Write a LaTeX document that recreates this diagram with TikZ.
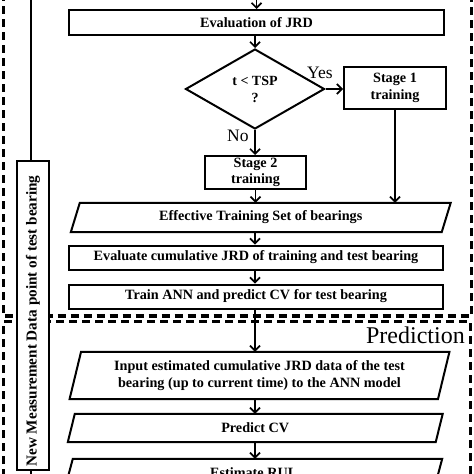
\documentclass[tikz,border=0pt]{standalone}
\usepackage{fontspec}
\setmainfont{Liberation Serif}
\usetikzlibrary{arrows.meta,shapes.geometric}
\newcommand{\drawpara}[2]{%
  \draw[boxline] ([xshift=#2]#1.north west) -- ([xshift=#2]#1.north east)
    -- ([xshift=-#2]#1.south east) -- ([xshift=-#2]#1.south west) -- cycle;}
\begin{document}
\begin{tikzpicture}[x=1pt,y=-1pt,
  boxline/.style={line width=2pt, fill=white},
  rbox/.style={draw, line width=2pt, fill=white, inner sep=0pt, align=center,
    font=\fontsize{14.2}{16.5}\selectfont\bfseries},
  pbox/.style={draw=none, inner sep=0pt, align=center,
    font=\fontsize{14.2}{17}\selectfont\bfseries},
  arr/.style={line width=1.7pt, -{Straight Barb[length=5pt,width=10pt,line width=1.7pt]}},
  plainline/.style={line width=1.7pt},
  dashframe/.style={line width=3.2pt, dash pattern=on 8pt off 5pt},
  lbl/.style={inner sep=0pt, font=\fontsize{17.5}{17.5}\selectfont},
]
\useasboundingbox (0,0) rectangle (474,474);
\clip (0,0) rectangle (474,474);
% frames
\draw[dashframe] (3.5,-20) -- (3.5,316) -- (471.5,316) -- (471.5,-20);
\draw[dashframe] (3.5,490) -- (3.5,321.5) -- (470.5,321.5) -- (470.5,490);
\node[lbl, anchor=base east, font=\fontsize{24}{24}\selectfont] (pred) at (465,343) {Prediction};

% boxes
\node[rbox, minimum width=375pt, minimum height=25pt] (eval) at (256.5,22.5) {Evaluation of JRD};
\node[draw, diamond, line width=2pt, minimum width=139pt, minimum height=80pt, inner sep=0pt,
  align=center, font=\fontsize{14}{17}\selectfont\bfseries] (dec) at (255,89) {t < TSP\\?};
\node[rbox, minimum width=102pt, minimum height=42pt] (s1) at (395,88) {Stage 1\\training};
\node[rbox, minimum width=101pt, minimum height=33pt] (s2) at (255.5,172.5) {Stage 2\\training};
\node[pbox, minimum width=370.5pt, minimum height=29pt] (eff) at (260.75,217.5) {Effective Training Set of bearings};
\drawpara{eff}{4.5pt}
\node[pbox] at (eff) {Effective Training Set of bearings};
\node[rbox, minimum width=374pt, minimum height=24pt] (cum) at (256,257.5) {Evaluate cumulative JRD of training and test bearing};
\node[rbox, minimum width=374pt, minimum height=24pt] (ann) at (256,296.5) {Train ANN and predict CV for test bearing};

\node[pbox, minimum width=368pt, minimum height=47pt] (inp) at (259.5,375.5) {Input estimated cumulative JRD data of the test\\bearing (up to current time) to the ANN model};
\drawpara{inp}{5.75pt}
\node[pbox] at (inp) {Input estimated cumulative JRD data of the test\\bearing (up to current time) to the ANN model};
\node[pbox, minimum width=367.5pt, minimum height=28pt] (pcv) at (255.25,428) {Predict CV};
\drawpara{pcv}{3.5pt}
\node[pbox] at (pcv) {Predict CV};
\node[pbox, minimum width=369pt, minimum height=28pt] (rul) at (253.7,473) {Estimate RUL};
\drawpara{rul}{3.8pt}
\node[pbox] at (rul) {Estimate RUL};

% side box
\node[draw, line width=2pt, fill=white, inner sep=0pt, rotate=90, minimum width=309pt, minimum height=32pt] (nm) at (33,315.5) {};
\node[inner sep=0pt, rotate=90, font=\fontsize{15.2}{16}\selectfont\bfseries] (nmtext) at (33,321) {New Measurement Data point of test bearing};
\coordinate (looptop) at (31,-10);
\coordinate (loopbot) at (31,490);
\draw[plainline] (nm.east -| looptop) -- (looptop);
\draw[plainline] (nm.west -| loopbot) -- (loopbot);

% connectors
\coordinate (topin) at (256.5,-10);
\draw[arr] (topin) -- (eval.north);
\draw[arr] (eval.south -| dec.north) -- (dec.north);
\draw[arr] (dec.east) -- (dec.east -| s1.west);
\draw[arr] (dec.south) -- (dec.south |- s2.north);
\draw[arr] (s1.south) -- (s1.south |- eff.north);
\draw[arr] (s2.south) -- (s2.south |- eff.north);
\draw[arr] (eff.south -| dec.south) -- (dec.south |- cum.north);
\draw[arr] (cum.south -| dec.south) -- (dec.south |- ann.north);
\draw[arr] (ann.south -| dec.south) -- (dec.south |- inp.north);
\draw[arr] (inp.south -| dec.south) -- (dec.south |- pcv.north);
\draw[arr] (pcv.south -| dec.south) -- (dec.south |- rul.north);

\node[lbl, anchor=south west] (yes) at (307,79) {Yes};
\node[lbl, anchor=south west] (no) at (227,142) {No};
\end{tikzpicture}
\end{document}
